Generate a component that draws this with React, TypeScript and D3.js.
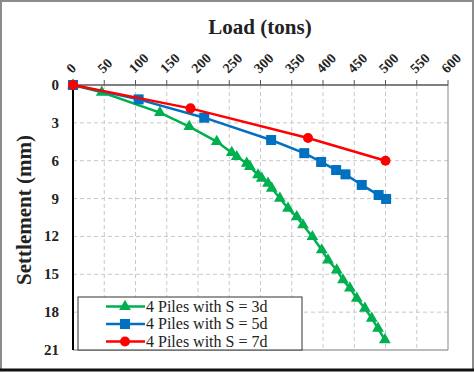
import React from "react";
import * as d3 from "d3";

// Load (tons) vs settlement (mm)
const loadTicks = [0, 50, 100, 150, 200, 250, 300, 350, 400, 450, 500, 550, 600];
const settleTicks = [0, 3, 6, 9, 12, 15, 18, 21];

const s3dLoad = [0, 46, 139, 186, 230, 254, 262, 278, 283, 296, 302, 312, 318, 331, 344, 358, 368, 383, 398, 408, 422, 432, 443, 454, 467, 478, 488, 499];
const s3dSettle = [0, 0.58, 2.19, 3.3, 4.48, 5.36, 5.68, 6.2, 6.47, 7.13, 7.39, 7.79, 8.19, 8.98, 9.77, 10.44, 11.09, 12.02, 13.07, 13.87, 14.66, 15.45, 16.1, 16.9, 17.7, 18.49, 19.28, 20.2];

const s5dLoad = [0, 105, 210, 317, 370, 397, 421, 436, 462, 489, 501];
const s5dSettle = [0, 1.14, 2.59, 4.36, 5.4, 6.1, 6.74, 7.08, 7.92, 8.72, 9.03];

const s7dLoad = [0, 188, 376, 500];
const s7dSettle = [0, 1.85, 4.2, 6.0];

const seriesNames = ["4 Piles with S = 3d", "4 Piles with S = 5d", "4 Piles with S = 7d"];

const W = 474;
const H = 372;
const left = 73, right = 448, top = 85, bottom = 350;

const x = d3.scaleLinear().domain([0, 600]).range([left, right]);
const y = d3.scaleLinear().domain([0, 21]).range([top, bottom]);

const serif = '"Times New Roman", "Liberation Serif", serif';

const series = [
  { name: seriesNames[0], color: "#00b050", shape: "triangle", pts: s3dLoad.map((l, i) => [l, s3dSettle[i]]) },
  { name: seriesNames[1], color: "#0070c0", shape: "square", pts: s5dLoad.map((l, i) => [l, s5dSettle[i]]) },
  { name: seriesNames[2], color: "#ff0000", shape: "circle", pts: s7dLoad.map((l, i) => [l, s7dSettle[i]]) },
];

function Marker({ shape, cx, cy, color }) {
  if (shape === "triangle") {
    const p = d3.symbol().type(d3.symbolTriangle).size(60)();
    return <path d={p} transform={`translate(${cx},${cy})`} fill={color} />;
  }
  if (shape === "square") {
    return <rect x={cx - 5} y={cy - 5} width={10} height={10} fill={color} />;
  }
  return <circle cx={cx} cy={cy} r={5} fill={color} />;
}

export default function App() {
  const line = d3.line().x((d) => x(d[0])).y((d) => y(d[1]));
  return (
    <svg width={W} height={H} style={{ position: "absolute", left: 0, top: 0, fontFamily: serif }}>
      <rect x={0} y={0} width={W} height={H} fill="#fff" />
      <rect x={1} y={1} width={W - 2} height={H - 3} fill="none" stroke="#8c8c8c" strokeWidth={2} />
      <line x1={0} x2={W} y1={H - 2} y2={H - 2} stroke="#111" strokeWidth={3} />

      {/* grid */}
      {loadTicks.slice(1, -1).map((t) => (
        <line key={"gx" + t} x1={x(t)} x2={x(t)} y1={top} y2={bottom} stroke="#c8c8c8" strokeDasharray="4,3" />
      ))}
      {settleTicks.slice(1, -1).map((t) => (
        <line key={"gy" + t} x1={left} x2={right} y1={y(t)} y2={y(t)} stroke="#c8c8c8" strokeDasharray="4,3" />
      ))}
      <line x1={right} x2={right} y1={top} y2={bottom} stroke="#888" />
      <line x1={left} x2={right} y1={bottom} y2={bottom} stroke="#777" />

      {/* top axis */}
      <line x1={left} x2={right} y1={top} y2={top} stroke="#555" strokeWidth={1.5} />
      {loadTicks.map((t) => (
        <g key={"xt" + t}>
          <line x1={x(t)} x2={x(t)} y1={top} y2={top - 5} stroke="#555" />
          <text
            transform={`translate(${x(t) - 1},${top - 11}) rotate(-45)`}
            fontWeight="bold"
            fontSize={14}
            fill="#222"
          >
            {t}
          </text>
        </g>
      ))}
      <line x1={left} x2={left} y1={top} y2={bottom} stroke="#000" strokeWidth={2} />
      {settleTicks.map((t) => (
        <text key={"yt" + t} x={59} y={y(t) + 5} textAnchor="end" fontWeight="bold" fontSize={15} fill="#222">
          {t}
        </text>
      ))}

      <text x={260} y={34} textAnchor="middle" fontWeight="bold" fontSize={21} fill="#222">
        Load (tons)
      </text>
      <text transform={`translate(31,210) rotate(-90)`} textAnchor="middle" fontWeight="bold" fontSize={21} fill="#222">
        Settlement (mm)
      </text>

      {/* series */}
      {series.map((s) => (
        <g key={s.name}>
          <path d={line(s.pts)} fill="none" stroke={s.color} strokeWidth={2.5} />
          {s.pts.map((p, i) => (
            <Marker key={i} shape={s.shape} cx={x(p[0])} cy={y(p[1])} color={s.color} />
          ))}
        </g>
      ))}

      {/* legend */}
      <rect x={78} y={297} width={224} height={53} fill="#fff" stroke="#333" />
      {series.map((s, i) => {
        const ly = 306.5 + i * 17.5;
        return (
          <g key={"lg" + i}>
            <line x1={106} x2={145} y1={ly} y2={ly} stroke={s.color} strokeWidth={2.5} />
            <Marker shape={s.shape} cx={125} cy={ly} color={s.color} />
            <text x={146} y={ly + 5} fontSize={16} fill="#222">
              {s.name}
            </text>
          </g>
        );
      })}
    </svg>
  );
}
